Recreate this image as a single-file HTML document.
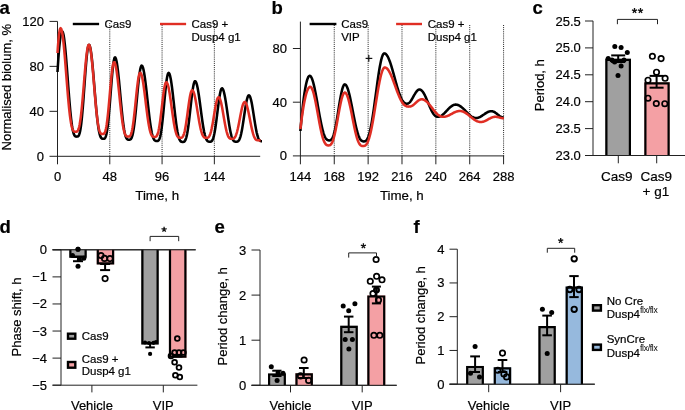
<!DOCTYPE html>
<html><head><meta charset="utf-8"><style>
html,body{margin:0;padding:0;background:#fff;width:685px;height:410px;overflow:hidden}
svg{display:block;will-change:transform}
text{font-family:"Liberation Sans", sans-serif;fill:#000;stroke:#000;stroke-width:0.2px}
</style></head><body>
<svg width="685" height="410" viewBox="0 0 685 410">
<text x="-0.5" y="13.8" font-size="18.5" text-anchor="start" font-weight="bold" >a</text>
<line x1="109.7816" y1="23" x2="109.7816" y2="156.3" stroke="#222" stroke-width="1" stroke-dasharray="1,1.1"/>
<line x1="162.0632" y1="23" x2="162.0632" y2="156.3" stroke="#222" stroke-width="1" stroke-dasharray="1,1.1"/>
<line x1="214.3448" y1="23" x2="214.3448" y2="156.3" stroke="#222" stroke-width="1" stroke-dasharray="1,1.1"/>
<line x1="57.5" y1="21.4" x2="57.5" y2="164.3" stroke="#222" stroke-width="1" />
<line x1="49.5" y1="156.3" x2="260.2" y2="156.3" stroke="#222" stroke-width="1" />
<line x1="49.5" y1="111.33200000000001" x2="57.5" y2="111.33200000000001" stroke="#222" stroke-width="1" />
<line x1="49.5" y1="66.364" x2="57.5" y2="66.364" stroke="#222" stroke-width="1" />
<line x1="49.5" y1="21.396000000000015" x2="57.5" y2="21.396000000000015" stroke="#222" stroke-width="1" />
<line x1="109.7816" y1="156.3" x2="109.7816" y2="164.3" stroke="#222" stroke-width="1" />
<line x1="162.0632" y1="156.3" x2="162.0632" y2="164.3" stroke="#222" stroke-width="1" />
<line x1="214.3448" y1="156.3" x2="214.3448" y2="164.3" stroke="#222" stroke-width="1" />
<text x="44" y="160.8" font-size="13" text-anchor="end" font-weight="normal" >0</text>
<text x="44" y="115.83200000000001" font-size="13" text-anchor="end" font-weight="normal" >40</text>
<text x="44" y="70.864" font-size="13" text-anchor="end" font-weight="normal" >80</text>
<text x="44" y="25.896000000000015" font-size="13" text-anchor="end" font-weight="normal" >120</text>
<text x="57.5" y="181.2" font-size="13" text-anchor="middle" font-weight="normal" >0</text>
<text x="109.7816" y="181.2" font-size="13" text-anchor="middle" font-weight="normal" >48</text>
<text x="162.0632" y="181.2" font-size="13" text-anchor="middle" font-weight="normal" >96</text>
<text x="214.3448" y="181.2" font-size="13" text-anchor="middle" font-weight="normal" >144</text>
<text x="157.2" y="200.2" font-size="13.3" text-anchor="middle" font-weight="normal" >Time, h</text>
<text x="0" y="0" font-size="13" text-anchor="middle" font-weight="normal" transform="translate(11,87.2) rotate(-90)">Normalised biolum, %</text>
<line x1="72.8" y1="24" x2="99.1" y2="24" stroke="#000" stroke-width="2.4" />
<text x="104.5" y="27.8" font-size="11.5" text-anchor="start" font-weight="normal" >Cas9</text>
<line x1="160" y1="24" x2="186.1" y2="24" stroke="#e02e24" stroke-width="2.4" />
<text x="191.5" y="27.8" font-size="11.5" text-anchor="start" font-weight="normal" >Cas9 +</text>
<text x="191.5" y="40.8" font-size="11.5" text-anchor="start" font-weight="normal" >Dusp4 g1</text>
<path d="M57.50,72.00 L57.93,64.97 L58.35,58.61 L58.78,52.92 L59.21,47.90 L59.64,43.55 L60.06,39.87 L60.49,36.86 L60.92,34.51 L61.35,32.84 L61.77,31.83 L62.20,31.50 L62.61,31.82 L63.01,32.77 L63.42,34.35 L63.82,36.52 L64.23,39.27 L64.63,42.54 L65.04,46.29 L65.44,50.47 L65.85,55.02 L66.26,59.88 L66.66,64.99 L67.07,70.27 L67.47,75.66 L67.88,81.09 L68.28,86.49 L68.69,91.81 L69.09,96.97 L69.50,101.93 L69.91,106.64 L70.31,111.05 L70.72,115.13 L71.12,118.85 L71.53,122.20 L71.93,125.16 L72.34,127.73 L72.74,129.92 L73.15,131.74 L73.56,133.21 L73.96,134.35 L74.37,135.21 L74.77,135.82 L75.18,136.21 L75.58,136.44 L75.99,136.56 L76.39,136.60 L76.80,136.60 L77.21,136.59 L77.61,136.53 L78.02,136.36 L78.43,136.00 L78.83,135.39 L79.24,134.46 L79.65,133.16 L80.05,131.44 L80.46,129.27 L80.87,126.61 L81.27,123.47 L81.68,119.84 L82.09,115.74 L82.49,111.22 L82.90,106.32 L83.31,101.10 L83.71,95.63 L84.12,90.01 L84.53,84.32 L84.93,78.67 L85.34,73.15 L85.75,67.86 L86.15,62.92 L86.56,58.42 L86.97,54.44 L87.37,51.07 L87.78,48.37 L88.19,46.40 L88.59,45.20 L89.00,44.80 L89.41,45.10 L89.82,46.01 L90.23,47.50 L90.63,49.55 L91.04,52.14 L91.45,55.22 L91.86,58.75 L92.27,62.67 L92.68,66.93 L93.09,71.47 L93.49,76.22 L93.90,81.12 L94.31,86.10 L94.72,91.09 L95.13,96.03 L95.54,100.87 L95.95,105.54 L96.35,109.99 L96.76,114.18 L97.17,118.07 L97.58,121.64 L97.99,124.85 L98.40,127.70 L98.81,130.19 L99.21,132.30 L99.62,134.07 L100.03,135.49 L100.44,136.61 L100.85,137.44 L101.26,138.03 L101.67,138.42 L102.07,138.65 L102.48,138.76 L102.89,138.80 L103.30,138.80 L103.70,138.79 L104.11,138.73 L104.51,138.56 L104.91,138.21 L105.32,137.60 L105.72,136.69 L106.12,135.42 L106.53,133.73 L106.93,131.61 L107.33,129.03 L107.74,125.98 L108.14,122.48 L108.54,118.55 L108.95,114.24 L109.35,109.58 L109.76,104.67 L110.16,99.56 L110.56,94.36 L110.97,89.15 L111.37,84.03 L111.77,79.12 L112.18,74.50 L112.58,70.27 L112.98,66.52 L113.39,63.33 L113.79,60.78 L114.19,58.92 L114.60,57.78 L115.00,57.40 L115.40,57.66 L115.80,58.46 L116.20,59.76 L116.60,61.56 L117.00,63.82 L117.40,66.52 L117.80,69.61 L118.20,73.05 L118.60,76.78 L119.00,80.75 L119.40,84.91 L119.80,89.20 L120.20,93.56 L120.60,97.93 L121.00,102.26 L121.40,106.49 L121.80,110.58 L122.20,114.47 L122.60,118.14 L123.00,121.55 L123.40,124.67 L123.80,127.49 L124.20,129.98 L124.60,132.16 L125.00,134.01 L125.40,135.55 L125.80,136.80 L126.20,137.78 L126.60,138.51 L127.00,139.03 L127.40,139.37 L127.80,139.57 L128.20,139.66 L128.60,139.70 L129.00,139.70 L129.41,139.69 L129.82,139.65 L130.23,139.52 L130.64,139.26 L131.05,138.82 L131.46,138.14 L131.87,137.19 L132.28,135.93 L132.69,134.33 L133.10,132.37 L133.51,130.04 L133.92,127.35 L134.33,124.29 L134.74,120.90 L135.15,117.21 L135.55,113.25 L135.96,109.07 L136.37,104.74 L136.78,100.32 L137.19,95.87 L137.60,91.48 L138.01,87.22 L138.42,83.16 L138.83,79.37 L139.24,75.94 L139.65,72.91 L140.06,70.35 L140.47,68.30 L140.88,66.81 L141.29,65.90 L141.70,65.60 L142.10,65.81 L142.50,66.42 L142.90,67.44 L143.30,68.84 L143.70,70.62 L144.10,72.74 L144.50,75.18 L144.90,77.91 L145.30,80.90 L145.70,84.10 L146.10,87.49 L146.50,91.01 L146.90,94.63 L147.30,98.31 L147.70,102.00 L148.10,105.66 L148.50,109.26 L148.90,112.76 L149.30,116.13 L149.70,119.33 L150.10,122.35 L150.50,125.15 L150.90,127.73 L151.30,130.07 L151.70,132.15 L152.10,133.99 L152.50,135.58 L152.90,136.93 L153.30,138.04 L153.70,138.94 L154.10,139.64 L154.50,140.16 L154.90,140.53 L155.30,140.77 L155.70,140.91 L156.10,140.97 L156.50,141.00 L156.90,141.00 L157.30,140.99 L157.71,140.94 L158.11,140.80 L158.51,140.50 L158.92,140.00 L159.32,139.24 L159.72,138.17 L160.13,136.76 L160.53,134.99 L160.93,132.83 L161.34,130.28 L161.74,127.35 L162.14,124.06 L162.55,120.45 L162.95,116.56 L163.36,112.44 L163.76,108.17 L164.16,103.82 L164.57,99.46 L164.97,95.18 L165.37,91.07 L165.78,87.20 L166.18,83.66 L166.58,80.53 L166.99,77.87 L167.39,75.73 L167.79,74.17 L168.20,73.22 L168.60,72.90 L169.00,73.12 L169.41,73.78 L169.81,74.88 L170.21,76.39 L170.61,78.28 L171.02,80.55 L171.42,83.14 L171.82,86.02 L172.23,89.15 L172.63,92.48 L173.03,95.97 L173.43,99.56 L173.84,103.22 L174.24,106.88 L174.64,110.51 L175.05,114.06 L175.45,117.48 L175.85,120.75 L176.25,123.83 L176.66,126.68 L177.06,129.30 L177.46,131.66 L177.87,133.75 L178.27,135.58 L178.67,137.13 L179.07,138.42 L179.48,139.47 L179.88,140.29 L180.28,140.90 L180.69,141.34 L181.09,141.62 L181.49,141.79 L181.89,141.87 L182.30,141.90 L182.70,141.90 L183.10,141.90 L183.50,141.86 L183.90,141.76 L184.30,141.54 L184.70,141.18 L185.10,140.62 L185.50,139.84 L185.90,138.81 L186.30,137.50 L186.70,135.90 L187.10,133.99 L187.50,131.78 L187.90,129.28 L188.30,126.50 L188.70,123.47 L189.10,120.23 L189.50,116.81 L189.90,113.26 L190.30,109.64 L190.70,106.00 L191.10,102.40 L191.50,98.91 L191.90,95.58 L192.30,92.48 L192.70,89.67 L193.10,87.19 L193.50,85.09 L193.90,83.41 L194.30,82.19 L194.70,81.45 L195.10,81.20 L195.51,81.38 L195.92,81.93 L196.32,82.84 L196.73,84.09 L197.14,85.67 L197.55,87.55 L197.96,89.71 L198.37,92.12 L198.78,94.74 L199.18,97.54 L199.59,100.48 L200.00,103.52 L200.41,106.62 L200.82,109.75 L201.22,112.86 L201.63,115.91 L202.04,118.89 L202.45,121.74 L202.86,124.45 L203.27,126.99 L203.68,129.34 L204.08,131.48 L204.49,133.41 L204.90,135.12 L205.31,136.60 L205.72,137.86 L206.12,138.90 L206.53,139.75 L206.94,140.41 L207.35,140.90 L207.76,141.25 L208.17,141.48 L208.58,141.61 L208.98,141.68 L209.39,141.70 L209.80,141.70 L210.21,141.70 L210.61,141.66 L211.02,141.56 L211.43,141.35 L211.83,140.99 L212.24,140.45 L212.65,139.70 L213.05,138.70 L213.46,137.43 L213.87,135.89 L214.27,134.06 L214.68,131.95 L215.09,129.57 L215.49,126.94 L215.90,124.08 L216.31,121.05 L216.71,117.87 L217.12,114.60 L217.53,111.29 L217.93,108.00 L218.34,104.79 L218.75,101.72 L219.15,98.84 L219.56,96.22 L219.97,93.91 L220.37,91.95 L220.78,90.38 L221.19,89.23 L221.59,88.53 L222.00,88.30 L222.41,88.47 L222.81,88.98 L223.22,89.83 L223.62,91.00 L224.03,92.47 L224.43,94.22 L224.84,96.22 L225.25,98.45 L225.65,100.87 L226.06,103.45 L226.46,106.15 L226.87,108.93 L227.27,111.76 L227.68,114.60 L228.09,117.41 L228.49,120.15 L228.90,122.80 L229.30,125.33 L229.71,127.71 L230.11,129.92 L230.52,131.95 L230.93,133.78 L231.33,135.40 L231.74,136.81 L232.14,138.01 L232.55,139.01 L232.95,139.82 L233.36,140.45 L233.77,140.93 L234.17,141.26 L234.58,141.48 L234.98,141.61 L235.39,141.68 L235.79,141.70 L236.20,141.70 L236.61,141.70 L237.02,141.67 L237.43,141.59 L237.84,141.43 L238.25,141.15 L238.66,140.72 L239.07,140.13 L239.48,139.34 L239.89,138.34 L240.30,137.11 L240.71,135.65 L241.12,133.97 L241.53,132.05 L241.94,129.93 L242.35,127.62 L242.75,125.13 L243.16,122.52 L243.57,119.81 L243.98,117.04 L244.39,114.26 L244.80,111.51 L245.21,108.84 L245.62,106.30 L246.03,103.93 L246.44,101.77 L246.85,99.88 L247.26,98.27 L247.67,96.99 L248.08,96.06 L248.49,95.49 L248.90,95.30 L249.31,95.48 L249.72,96.00 L250.13,96.87 L250.54,98.06 L250.95,99.56 L251.36,101.33 L251.77,103.35 L252.18,105.57 L252.58,107.97 L252.99,110.50 L253.40,113.11 L253.81,115.77 L254.22,118.44 L254.63,121.06 L255.04,123.62 L255.45,126.06 L255.86,128.36 L256.27,130.50 L256.68,132.45 L257.09,134.20 L257.50,135.74 L257.91,137.06 L258.32,138.17 L258.73,139.08 L259.13,139.79 L259.54,140.32 L259.95,140.70 L260.36,140.95 L260.77,141.10 L261.18,141.17 L261.59,141.20 L262.00,141.20" fill="none" stroke="#000" stroke-width="2.55" stroke-linejoin="round"/>
<path d="M57.50,53.00 L57.94,46.42 L58.39,40.85 L58.83,36.30 L59.27,32.76 L59.71,30.22 L60.16,28.71 L60.60,28.20 L61.01,28.50 L61.41,29.39 L61.82,30.86 L62.22,32.89 L62.63,35.46 L63.03,38.52 L63.44,42.04 L63.84,45.97 L64.25,50.26 L64.65,54.86 L65.06,59.69 L65.46,64.71 L65.87,69.86 L66.28,75.06 L66.68,80.26 L67.09,85.40 L67.49,90.42 L67.90,95.27 L68.30,99.92 L68.71,104.30 L69.11,108.39 L69.52,112.17 L69.92,115.60 L70.33,118.68 L70.74,121.39 L71.14,123.74 L71.55,125.74 L71.95,127.39 L72.36,128.73 L72.76,129.77 L73.17,130.54 L73.57,131.09 L73.98,131.45 L74.38,131.66 L74.79,131.76 L75.19,131.80 L75.60,131.80 L76.00,131.79 L76.41,131.75 L76.81,131.63 L77.21,131.38 L77.62,130.95 L78.02,130.29 L78.42,129.37 L78.82,128.14 L79.23,126.57 L79.63,124.64 L80.03,122.33 L80.44,119.64 L80.84,116.57 L81.24,113.13 L81.65,109.35 L82.05,105.25 L82.45,100.88 L82.85,96.29 L83.26,91.53 L83.66,86.67 L84.06,81.76 L84.47,76.89 L84.87,72.13 L85.27,67.55 L85.68,63.22 L86.08,59.21 L86.48,55.58 L86.88,52.41 L87.29,49.73 L87.69,47.60 L88.09,46.05 L88.50,45.11 L88.90,44.80 L89.30,45.10 L89.71,46.01 L90.11,47.51 L90.51,49.57 L90.91,52.16 L91.32,55.25 L91.72,58.77 L92.12,62.68 L92.53,66.92 L92.93,71.42 L93.33,76.11 L93.74,80.93 L94.14,85.80 L94.54,90.67 L94.94,95.46 L95.35,100.11 L95.75,104.57 L96.15,108.80 L96.56,112.74 L96.96,116.36 L97.36,119.64 L97.76,122.55 L98.17,125.10 L98.57,127.28 L98.97,129.10 L99.38,130.57 L99.78,131.72 L100.18,132.59 L100.59,133.20 L100.99,133.61 L101.39,133.84 L101.79,133.96 L102.20,134.00 L102.60,134.00 L103.01,133.99 L103.42,133.93 L103.83,133.76 L104.24,133.41 L104.65,132.82 L105.06,131.93 L105.47,130.68 L105.89,129.04 L106.30,126.97 L106.71,124.47 L107.12,121.53 L107.53,118.17 L107.94,114.41 L108.35,110.31 L108.76,105.93 L109.17,101.33 L109.58,96.61 L109.99,91.84 L110.40,87.13 L110.81,82.57 L111.22,78.27 L111.64,74.32 L112.05,70.80 L112.46,67.80 L112.87,65.40 L113.28,63.63 L113.69,62.56 L114.10,62.20 L114.50,62.44 L114.91,63.15 L115.31,64.33 L115.71,65.96 L116.11,68.01 L116.52,70.44 L116.92,73.24 L117.32,76.34 L117.73,79.72 L118.13,83.31 L118.53,87.07 L118.93,90.95 L119.34,94.89 L119.74,98.84 L120.14,102.75 L120.55,106.58 L120.95,110.27 L121.35,113.80 L121.75,117.11 L122.16,120.19 L122.56,123.01 L122.96,125.56 L123.37,127.82 L123.77,129.78 L124.17,131.46 L124.57,132.85 L124.98,133.98 L125.38,134.86 L125.78,135.53 L126.19,135.99 L126.59,136.30 L126.99,136.48 L127.39,136.57 L127.80,136.60 L128.20,136.60 L128.60,136.59 L129.00,136.55 L129.40,136.43 L129.80,136.18 L130.20,135.75 L130.60,135.11 L131.00,134.20 L131.40,133.01 L131.80,131.49 L132.20,129.65 L132.60,127.46 L133.00,124.93 L133.40,122.08 L133.80,118.93 L134.20,115.52 L134.60,111.89 L135.00,108.08 L135.40,104.17 L135.80,100.21 L136.20,96.27 L136.60,92.43 L137.00,88.75 L137.40,85.32 L137.80,82.18 L138.20,79.41 L138.60,77.06 L139.00,75.18 L139.40,73.81 L139.80,72.98 L140.20,72.70 L140.60,72.90 L141.00,73.48 L141.40,74.44 L141.80,75.77 L142.20,77.44 L142.60,79.44 L143.00,81.73 L143.40,84.29 L143.80,87.07 L144.20,90.04 L144.60,93.16 L145.00,96.38 L145.40,99.68 L145.80,102.99 L146.20,106.29 L146.60,109.54 L147.00,112.69 L147.40,115.72 L147.80,118.60 L148.20,121.29 L148.60,123.79 L149.00,126.06 L149.40,128.11 L149.80,129.91 L150.20,131.48 L150.60,132.82 L151.00,133.93 L151.40,134.83 L151.80,135.53 L152.20,136.05 L152.60,136.42 L153.00,136.66 L153.40,136.80 L153.80,136.87 L154.20,136.90 L154.60,136.90 L155.00,136.90 L155.41,136.86 L155.81,136.74 L156.21,136.50 L156.62,136.10 L157.02,135.48 L157.42,134.63 L157.83,133.50 L158.23,132.07 L158.63,130.33 L159.04,128.29 L159.44,125.94 L159.84,123.29 L160.25,120.39 L160.65,117.27 L161.06,113.96 L161.46,110.53 L161.86,107.04 L162.27,103.53 L162.67,100.10 L163.07,96.79 L163.48,93.69 L163.88,90.85 L164.28,88.33 L164.69,86.19 L165.09,84.47 L165.49,83.22 L165.90,82.46 L166.30,82.20 L166.70,82.38 L167.11,82.91 L167.51,83.79 L167.91,85.01 L168.31,86.54 L168.72,88.36 L169.12,90.45 L169.52,92.77 L169.93,95.29 L170.33,97.98 L170.73,100.79 L171.13,103.68 L171.54,106.63 L171.94,109.58 L172.34,112.50 L172.75,115.36 L173.15,118.12 L173.55,120.76 L173.95,123.24 L174.36,125.54 L174.76,127.65 L175.16,129.55 L175.57,131.24 L175.97,132.70 L176.37,133.96 L176.77,135.00 L177.18,135.84 L177.58,136.50 L177.98,137.00 L178.39,137.35 L178.79,137.58 L179.19,137.71 L179.59,137.78 L180.00,137.80 L180.40,137.80 L180.81,137.80 L181.21,137.76 L181.62,137.66 L182.03,137.45 L182.43,137.10 L182.84,136.57 L183.25,135.82 L183.66,134.84 L184.06,133.60 L184.47,132.09 L184.88,130.31 L185.28,128.26 L185.69,125.96 L186.10,123.44 L186.50,120.72 L186.91,117.84 L187.32,114.85 L187.72,111.81 L188.13,108.77 L188.54,105.78 L188.94,102.90 L189.35,100.20 L189.76,97.72 L190.17,95.53 L190.57,93.67 L190.98,92.18 L191.39,91.09 L191.79,90.42 L192.20,90.20 L192.61,90.35 L193.01,90.81 L193.42,91.56 L193.82,92.60 L194.23,93.91 L194.63,95.47 L195.04,97.26 L195.45,99.25 L195.85,101.41 L196.26,103.71 L196.66,106.11 L197.07,108.59 L197.47,111.11 L197.88,113.64 L198.29,116.14 L198.69,118.59 L199.10,120.96 L199.50,123.21 L199.91,125.33 L200.31,127.30 L200.72,129.11 L201.13,130.74 L201.53,132.18 L201.94,133.44 L202.34,134.51 L202.75,135.40 L203.15,136.12 L203.56,136.69 L203.97,137.11 L204.37,137.41 L204.78,137.61 L205.18,137.72 L205.59,137.78 L205.99,137.80 L206.40,137.80 L206.81,137.80 L207.21,137.77 L207.62,137.69 L208.03,137.53 L208.43,137.26 L208.84,136.85 L209.25,136.28 L209.65,135.52 L210.06,134.56 L210.47,133.38 L210.87,131.99 L211.28,130.39 L211.69,128.58 L212.09,126.58 L212.50,124.41 L212.91,122.10 L213.31,119.68 L213.72,117.19 L214.13,114.68 L214.53,112.18 L214.94,109.74 L215.35,107.40 L215.75,105.22 L216.16,103.22 L216.57,101.46 L216.97,99.97 L217.38,98.78 L217.79,97.91 L218.19,97.38 L218.60,97.20 L219.00,97.35 L219.40,97.80 L219.80,98.54 L220.20,99.56 L220.60,100.84 L221.00,102.36 L221.40,104.09 L221.80,106.01 L222.20,108.08 L222.60,110.27 L223.00,112.55 L223.40,114.87 L223.80,117.22 L224.20,119.55 L224.60,121.82 L225.00,124.02 L225.40,126.11 L225.80,128.07 L226.20,129.87 L226.60,131.52 L227.00,132.99 L227.40,134.27 L227.80,135.38 L228.20,136.30 L228.60,137.05 L229.00,137.64 L229.40,138.08 L229.80,138.39 L230.20,138.60 L230.60,138.72 L231.00,138.78 L231.40,138.80 L231.80,138.80 L232.20,138.80 L232.61,138.78 L233.01,138.72 L233.41,138.60 L233.82,138.40 L234.22,138.10 L234.62,137.67 L235.03,137.10 L235.43,136.37 L235.83,135.48 L236.23,134.42 L236.64,133.19 L237.04,131.79 L237.44,130.22 L237.85,128.51 L238.25,126.66 L238.65,124.70 L239.06,122.65 L239.46,120.55 L239.86,118.41 L240.27,116.28 L240.67,114.18 L241.07,112.16 L241.47,110.24 L241.88,108.45 L242.28,106.83 L242.68,105.41 L243.09,104.22 L243.49,103.26 L243.89,102.56 L244.30,102.14 L244.70,102.00 L245.11,102.13 L245.51,102.52 L245.92,103.16 L246.32,104.05 L246.73,105.16 L247.14,106.49 L247.54,108.00 L247.95,109.68 L248.35,111.50 L248.76,113.43 L249.16,115.44 L249.57,117.51 L249.98,119.61 L250.38,121.69 L250.79,123.75 L251.19,125.75 L251.60,127.67 L252.01,129.48 L252.41,131.17 L252.82,132.73 L253.22,134.13 L253.63,135.39 L254.04,136.48 L254.44,137.41 L254.85,138.19 L255.25,138.83 L255.66,139.32 L256.06,139.69 L256.47,139.96 L256.88,140.13 L257.28,140.23 L257.69,140.28 L258.09,140.30 L258.50,140.30 L258.92,140.33 L259.34,140.40 L259.76,140.46 L260.18,140.50 L260.60,140.50" fill="none" stroke="#e02e24" stroke-width="2.55" stroke-linejoin="round"/>
<text x="271.5" y="13.8" font-size="18.5" text-anchor="start" font-weight="bold" >b</text>
<line x1="334.264" y1="25" x2="334.264" y2="155.9" stroke="#222" stroke-width="1" stroke-dasharray="1,1.1"/>
<line x1="368.128" y1="25" x2="368.128" y2="155.9" stroke="#222" stroke-width="1" stroke-dasharray="1,1.1"/>
<line x1="401.99199999999996" y1="25" x2="401.99199999999996" y2="155.9" stroke="#222" stroke-width="1" stroke-dasharray="1,1.1"/>
<line x1="435.856" y1="25" x2="435.856" y2="155.9" stroke="#222" stroke-width="1" stroke-dasharray="1,1.1"/>
<line x1="469.71999999999997" y1="25" x2="469.71999999999997" y2="155.9" stroke="#222" stroke-width="1" stroke-dasharray="1,1.1"/>
<line x1="503.58399999999995" y1="25" x2="503.58399999999995" y2="155.9" stroke="#222" stroke-width="1" stroke-dasharray="1,1.1"/>
<line x1="300.4" y1="21.6" x2="300.4" y2="164.3" stroke="#222" stroke-width="1" />
<line x1="292.9" y1="155.9" x2="504.1" y2="155.9" stroke="#222" stroke-width="1" />
<line x1="292.9" y1="102.2" x2="300.4" y2="102.2" stroke="#222" stroke-width="1" />
<line x1="292.9" y1="48.5" x2="300.4" y2="48.5" stroke="#222" stroke-width="1" />
<line x1="334.264" y1="155.9" x2="334.264" y2="164.3" stroke="#222" stroke-width="1" />
<line x1="368.128" y1="155.9" x2="368.128" y2="164.3" stroke="#222" stroke-width="1" />
<line x1="401.99199999999996" y1="155.9" x2="401.99199999999996" y2="164.3" stroke="#222" stroke-width="1" />
<line x1="435.856" y1="155.9" x2="435.856" y2="164.3" stroke="#222" stroke-width="1" />
<line x1="469.71999999999997" y1="155.9" x2="469.71999999999997" y2="164.3" stroke="#222" stroke-width="1" />
<line x1="503.58399999999995" y1="155.9" x2="503.58399999999995" y2="164.3" stroke="#222" stroke-width="1" />
<text x="287" y="160.4" font-size="13" text-anchor="end" font-weight="normal" >0</text>
<text x="287" y="106.7" font-size="13" text-anchor="end" font-weight="normal" >40</text>
<text x="287" y="53.0" font-size="13" text-anchor="end" font-weight="normal" >80</text>
<text x="300.4" y="181.2" font-size="13" text-anchor="middle" font-weight="normal" >144</text>
<text x="334.264" y="181.2" font-size="13" text-anchor="middle" font-weight="normal" >168</text>
<text x="368.128" y="181.2" font-size="13" text-anchor="middle" font-weight="normal" >192</text>
<text x="401.99199999999996" y="181.2" font-size="13" text-anchor="middle" font-weight="normal" >216</text>
<text x="435.856" y="181.2" font-size="13" text-anchor="middle" font-weight="normal" >240</text>
<text x="469.71999999999997" y="181.2" font-size="13" text-anchor="middle" font-weight="normal" >264</text>
<text x="503.58399999999995" y="181.2" font-size="13" text-anchor="middle" font-weight="normal" >288</text>
<text x="401.8" y="200.2" font-size="13.3" text-anchor="middle" font-weight="normal" >Time, h</text>
<line x1="309.6" y1="24" x2="336.4" y2="24" stroke="#000" stroke-width="2.4" />
<text x="341.2" y="27.5" font-size="11.5" text-anchor="start" font-weight="normal" >Cas9</text>
<text x="341.2" y="40.6" font-size="11.5" text-anchor="start" font-weight="normal" >VIP</text>
<line x1="396.1" y1="24" x2="422" y2="24" stroke="#e02e24" stroke-width="2.4" />
<text x="427.7" y="27.5" font-size="11.5" text-anchor="start" font-weight="normal" >Cas9 +</text>
<text x="427.7" y="40.6" font-size="11.5" text-anchor="start" font-weight="normal" >Dusp4 g1</text>
<line x1="365.6" y1="58.4" x2="372.3" y2="58.4" stroke="#111" stroke-width="1.2" />
<line x1="368.8" y1="55" x2="368.8" y2="61.7" stroke="#111" stroke-width="1.2" />
<path d="M300.40,131.00 L300.80,126.30 L301.21,121.82 L301.61,117.54 L302.02,113.47 L302.42,109.61 L302.83,105.96 L303.23,102.51 L303.63,99.28 L304.04,96.25 L304.44,93.43 L304.85,90.83 L305.25,88.43 L305.66,86.23 L306.06,84.25 L306.47,82.48 L306.87,80.91 L307.27,79.56 L307.68,78.41 L308.08,77.47 L308.49,76.74 L308.89,76.22 L309.30,75.90 L309.70,75.80 L310.10,75.89 L310.50,76.16 L310.90,76.60 L311.30,77.22 L311.70,78.01 L312.10,78.97 L312.50,80.08 L312.90,81.35 L313.30,82.76 L313.70,84.31 L314.10,85.98 L314.50,87.77 L314.90,89.66 L315.30,91.65 L315.70,93.72 L316.10,95.86 L316.50,98.06 L316.90,100.30 L317.30,102.58 L317.70,104.87 L318.10,107.16 L318.50,109.45 L318.90,111.72 L319.30,113.96 L319.70,116.15 L320.10,118.29 L320.50,120.36 L320.90,122.36 L321.30,124.27 L321.70,126.10 L322.10,127.82 L322.50,129.44 L322.90,130.95 L323.30,132.34 L323.70,133.62 L324.10,134.78 L324.50,135.82 L324.90,136.74 L325.30,137.54 L325.70,138.23 L326.10,138.81 L326.50,139.28 L326.90,139.66 L327.30,139.94 L327.70,140.15 L328.10,140.28 L328.50,140.36 L328.90,140.39 L329.30,140.40 L329.71,140.39 L330.12,140.33 L330.52,140.20 L330.93,139.97 L331.34,139.62 L331.75,139.14 L332.16,138.50 L332.56,137.71 L332.97,136.76 L333.38,135.63 L333.79,134.33 L334.19,132.86 L334.60,131.22 L335.01,129.42 L335.42,127.47 L335.83,125.38 L336.23,123.17 L336.64,120.84 L337.05,118.43 L337.46,115.95 L337.87,113.41 L338.27,110.85 L338.68,108.29 L339.09,105.74 L339.50,103.24 L339.91,100.81 L340.31,98.47 L340.72,96.24 L341.13,94.15 L341.54,92.22 L341.94,90.47 L342.35,88.91 L342.76,87.56 L343.17,86.44 L343.58,85.55 L343.98,84.91 L344.39,84.53 L344.80,84.40 L345.21,84.49 L345.61,84.74 L346.02,85.17 L346.43,85.76 L346.83,86.52 L347.24,87.43 L347.64,88.50 L348.05,89.70 L348.46,91.05 L348.86,92.52 L349.27,94.11 L349.68,95.80 L350.08,97.59 L350.49,99.47 L350.90,101.41 L351.30,103.42 L351.71,105.47 L352.11,107.55 L352.52,109.66 L352.93,111.77 L353.33,113.88 L353.74,115.97 L354.15,118.02 L354.55,120.04 L354.96,122.01 L355.37,123.91 L355.77,125.74 L356.18,127.49 L356.59,129.14 L356.99,130.71 L357.40,132.17 L357.80,133.52 L358.21,134.76 L358.62,135.89 L359.02,136.90 L359.43,137.80 L359.84,138.59 L360.24,139.26 L360.65,139.83 L361.06,140.30 L361.46,140.67 L361.87,140.95 L362.27,141.15 L362.68,141.29 L363.09,141.36 L363.49,141.39 L363.90,141.40 L364.30,141.39 L364.70,141.35 L365.10,141.26 L365.50,141.09 L365.90,140.84 L366.30,140.49 L366.70,140.03 L367.10,139.45 L367.50,138.74 L367.90,137.89 L368.30,136.90 L368.70,135.77 L369.10,134.49 L369.50,133.05 L369.90,131.47 L370.30,129.74 L370.70,127.86 L371.10,125.84 L371.50,123.68 L371.90,121.39 L372.30,118.98 L372.70,116.46 L373.10,113.83 L373.50,111.11 L373.90,108.31 L374.30,105.44 L374.70,102.51 L375.10,99.54 L375.50,96.55 L375.90,93.55 L376.30,90.55 L376.70,87.56 L377.10,84.62 L377.50,81.72 L377.90,78.89 L378.30,76.14 L378.70,73.49 L379.10,70.95 L379.50,68.54 L379.90,66.26 L380.30,64.14 L380.70,62.18 L381.10,60.39 L381.50,58.79 L381.90,57.39 L382.30,56.18 L382.70,55.19 L383.10,54.41 L383.50,53.85 L383.90,53.51 L384.30,53.40 L384.70,53.45 L385.10,53.58 L385.51,53.81 L385.91,54.12 L386.31,54.53 L386.71,55.02 L387.11,55.60 L387.51,56.25 L387.92,56.99 L388.32,57.81 L388.72,58.70 L389.12,59.66 L389.52,60.68 L389.93,61.77 L390.33,62.92 L390.73,64.13 L391.13,65.38 L391.53,66.68 L391.93,68.02 L392.34,69.39 L392.74,70.80 L393.14,72.23 L393.54,73.68 L393.94,75.14 L394.34,76.61 L394.75,78.09 L395.15,79.57 L395.55,81.03 L395.95,82.49 L396.35,83.93 L396.76,85.34 L397.16,86.73 L397.56,88.09 L397.96,89.41 L398.36,90.68 L398.76,91.92 L399.17,93.10 L399.57,94.23 L399.97,95.31 L400.37,96.33 L400.77,97.29 L401.18,98.18 L401.58,99.00 L401.98,99.76 L402.38,100.46 L402.78,101.08 L403.18,101.63 L403.59,102.11 L403.99,102.53 L404.39,102.87 L404.79,103.16 L405.19,103.37 L405.59,103.53 L406.00,103.63 L406.40,103.69 L406.80,103.70 L407.21,103.68 L407.62,103.61 L408.03,103.48 L408.44,103.28 L408.85,103.02 L409.26,102.70 L409.67,102.31 L410.08,101.87 L410.49,101.36 L410.90,100.81 L411.31,100.20 L411.72,99.56 L412.13,98.88 L412.54,98.17 L412.95,97.44 L413.35,96.71 L413.76,95.96 L414.17,95.23 L414.58,94.50 L414.99,93.80 L415.40,93.13 L415.81,92.50 L416.22,91.91 L416.63,91.37 L417.04,90.89 L417.45,90.48 L417.86,90.13 L418.27,89.86 L418.68,89.66 L419.09,89.54 L419.50,89.50 L419.91,89.54 L420.31,89.65 L420.72,89.83 L421.13,90.08 L421.53,90.40 L421.94,90.80 L422.35,91.25 L422.75,91.77 L423.16,92.35 L423.57,92.99 L423.97,93.68 L424.38,94.42 L424.79,95.21 L425.19,96.04 L425.60,96.91 L426.01,97.80 L426.41,98.73 L426.82,99.67 L427.23,100.64 L427.63,101.61 L428.04,102.59 L428.45,103.57 L428.85,104.55 L429.26,105.52 L429.67,106.47 L430.07,107.41 L430.48,108.32 L430.89,109.20 L431.29,110.05 L431.70,110.86 L432.11,111.63 L432.51,112.35 L432.92,113.03 L433.33,113.65 L433.73,114.22 L434.14,114.74 L434.55,115.20 L434.95,115.60 L435.36,115.94 L435.77,116.22 L436.17,116.44 L436.58,116.61 L436.99,116.72 L437.39,116.78 L437.80,116.80 L438.21,116.78 L438.61,116.74 L439.02,116.66 L439.43,116.55 L439.83,116.42 L440.24,116.25 L440.65,116.05 L441.05,115.83 L441.46,115.58 L441.87,115.31 L442.27,115.01 L442.68,114.69 L443.09,114.36 L443.50,114.00 L443.90,113.62 L444.31,113.23 L444.72,112.83 L445.12,112.42 L445.53,112.00 L445.94,111.57 L446.34,111.14 L446.75,110.70 L447.16,110.26 L447.56,109.83 L447.97,109.40 L448.38,108.98 L448.78,108.57 L449.19,108.17 L449.60,107.78 L450.00,107.40 L450.41,107.04 L450.82,106.71 L451.23,106.39 L451.63,106.09 L452.04,105.82 L452.45,105.57 L452.85,105.35 L453.26,105.15 L453.67,104.98 L454.07,104.85 L454.48,104.74 L454.89,104.66 L455.29,104.62 L455.70,104.60 L456.10,104.61 L456.50,104.65 L456.90,104.71 L457.30,104.80 L457.70,104.92 L458.10,105.05 L458.50,105.21 L458.90,105.40 L459.30,105.60 L459.70,105.83 L460.10,106.08 L460.50,106.35 L460.90,106.64 L461.30,106.94 L461.70,107.26 L462.10,107.60 L462.50,107.95 L462.90,108.31 L463.30,108.69 L463.70,109.07 L464.10,109.47 L464.50,109.87 L464.90,110.27 L465.30,110.68 L465.70,111.09 L466.10,111.51 L466.50,111.92 L466.90,112.33 L467.30,112.73 L467.70,113.13 L468.10,113.53 L468.50,113.91 L468.90,114.29 L469.30,114.65 L469.70,115.00 L470.10,115.34 L470.50,115.66 L470.90,115.96 L471.30,116.25 L471.70,116.52 L472.10,116.77 L472.50,117.00 L472.90,117.20 L473.30,117.39 L473.70,117.55 L474.10,117.68 L474.50,117.80 L474.90,117.89 L475.30,117.95 L475.70,117.99 L476.10,118.00 L476.51,117.99 L476.92,117.95 L477.33,117.89 L477.74,117.81 L478.15,117.70 L478.56,117.57 L478.98,117.42 L479.39,117.25 L479.80,117.05 L480.21,116.85 L480.62,116.62 L481.03,116.38 L481.44,116.13 L481.85,115.87 L482.26,115.60 L482.67,115.32 L483.08,115.03 L483.49,114.74 L483.91,114.46 L484.32,114.17 L484.73,113.88 L485.14,113.60 L485.55,113.33 L485.96,113.07 L486.37,112.82 L486.78,112.58 L487.19,112.35 L487.60,112.15 L488.01,111.95 L488.42,111.78 L488.84,111.63 L489.25,111.50 L489.66,111.39 L490.07,111.31 L490.48,111.25 L490.89,111.21 L491.30,111.20 L491.70,111.22 L492.11,111.26 L492.51,111.34 L492.91,111.46 L493.32,111.60 L493.72,111.76 L494.12,111.96 L494.53,112.18 L494.93,112.42 L495.33,112.68 L495.74,112.96 L496.14,113.26 L496.54,113.56 L496.95,113.87 L497.35,114.19 L497.75,114.51 L498.15,114.83 L498.56,115.14 L498.96,115.44 L499.36,115.74 L499.77,116.02 L500.17,116.28 L500.57,116.52 L500.98,116.74 L501.38,116.94 L501.78,117.10 L502.19,117.24 L502.59,117.36 L502.99,117.44 L503.40,117.48 L503.80,117.50" fill="none" stroke="#000" stroke-width="2.55" stroke-linejoin="round"/>
<path d="M300.40,129.00 L300.81,125.56 L301.22,122.26 L301.62,119.11 L302.03,116.11 L302.44,113.25 L302.85,110.54 L303.26,107.97 L303.67,105.56 L304.07,103.28 L304.48,101.16 L304.89,99.18 L305.30,97.35 L305.71,95.66 L306.12,94.13 L306.52,92.73 L306.93,91.49 L307.34,90.39 L307.75,89.44 L308.16,88.63 L308.57,87.97 L308.97,87.46 L309.38,87.09 L309.79,86.87 L310.20,86.80 L310.61,86.90 L311.01,87.18 L311.42,87.66 L311.83,88.33 L312.23,89.17 L312.64,90.19 L313.05,91.38 L313.45,92.73 L313.86,94.23 L314.27,95.86 L314.67,97.62 L315.08,99.49 L315.49,101.47 L315.89,103.53 L316.30,105.66 L316.71,107.85 L317.11,110.08 L317.52,112.33 L317.93,114.60 L318.33,116.86 L318.74,119.11 L319.15,121.32 L319.55,123.49 L319.96,125.59 L320.37,127.63 L320.77,129.58 L321.18,131.44 L321.59,133.20 L321.99,134.85 L322.40,136.38 L322.81,137.79 L323.21,139.08 L323.62,140.24 L324.03,141.26 L324.43,142.17 L324.84,142.94 L325.25,143.59 L325.65,144.13 L326.06,144.56 L326.47,144.88 L326.87,145.11 L327.28,145.27 L327.69,145.36 L328.09,145.39 L328.50,145.40 L328.91,145.39 L329.31,145.35 L329.72,145.24 L330.13,145.05 L330.54,144.76 L330.94,144.36 L331.35,143.84 L331.76,143.18 L332.17,142.39 L332.57,141.45 L332.98,140.37 L333.39,139.14 L333.80,137.76 L334.20,136.25 L334.61,134.60 L335.02,132.82 L335.43,130.93 L335.83,128.94 L336.24,126.85 L336.65,124.69 L337.06,122.46 L337.47,120.20 L337.87,117.90 L338.28,115.61 L338.69,113.32 L339.10,111.07 L339.50,108.87 L339.91,106.74 L340.32,104.69 L340.73,102.76 L341.13,100.96 L341.54,99.29 L341.95,97.78 L342.36,96.45 L342.76,95.29 L343.17,94.34 L343.58,93.58 L343.99,93.04 L344.39,92.71 L344.80,92.60 L345.20,92.69 L345.61,92.95 L346.01,93.39 L346.42,93.99 L346.82,94.76 L347.23,95.69 L347.63,96.78 L348.04,98.00 L348.44,99.37 L348.84,100.86 L349.25,102.46 L349.65,104.17 L350.06,105.97 L350.46,107.84 L350.87,109.79 L351.27,111.78 L351.68,113.81 L352.08,115.87 L352.48,117.93 L352.89,120.00 L353.29,122.04 L353.70,124.06 L354.10,126.03 L354.51,127.95 L354.91,129.81 L355.32,131.59 L355.72,133.28 L356.12,134.88 L356.53,136.39 L356.93,137.78 L357.34,139.07 L357.74,140.24 L358.15,141.29 L358.55,142.23 L358.96,143.05 L359.36,143.76 L359.76,144.35 L360.17,144.84 L360.57,145.23 L360.98,145.53 L361.38,145.74 L361.79,145.88 L362.19,145.96 L362.60,145.99 L363.00,146.00 L363.40,145.99 L363.81,145.96 L364.21,145.89 L364.61,145.77 L365.02,145.57 L365.42,145.31 L365.83,144.95 L366.23,144.50 L366.63,143.96 L367.04,143.31 L367.44,142.54 L367.84,141.67 L368.25,140.67 L368.65,139.56 L369.06,138.33 L369.46,136.98 L369.86,135.51 L370.27,133.92 L370.67,132.22 L371.07,130.41 L371.48,128.50 L371.88,126.49 L372.29,124.38 L372.69,122.20 L373.09,119.93 L373.50,117.60 L373.90,115.21 L374.30,112.76 L374.71,110.28 L375.11,107.77 L375.51,105.25 L375.92,102.72 L376.32,100.19 L376.73,97.68 L377.13,95.20 L377.53,92.76 L377.94,90.38 L378.34,88.06 L378.74,85.81 L379.15,83.65 L379.55,81.59 L379.96,79.64 L380.36,77.80 L380.76,76.09 L381.17,74.51 L381.57,73.08 L381.97,71.80 L382.38,70.68 L382.78,69.72 L383.19,68.92 L383.59,68.30 L383.99,67.86 L384.40,67.59 L384.80,67.50 L385.20,67.53 L385.61,67.64 L386.01,67.81 L386.41,68.05 L386.82,68.36 L387.22,68.74 L387.62,69.18 L388.03,69.68 L388.43,70.25 L388.83,70.87 L389.24,71.55 L389.64,72.28 L390.04,73.07 L390.45,73.90 L390.85,74.77 L391.25,75.69 L391.66,76.65 L392.06,77.64 L392.46,78.65 L392.87,79.70 L393.27,80.77 L393.67,81.85 L394.08,82.95 L394.48,84.06 L394.88,85.18 L395.29,86.30 L395.69,87.42 L396.09,88.53 L396.50,89.63 L396.90,90.72 L397.30,91.79 L397.71,92.84 L398.11,93.87 L398.51,94.87 L398.92,95.84 L399.32,96.78 L399.72,97.68 L400.13,98.55 L400.53,99.37 L400.93,100.15 L401.34,100.89 L401.74,101.58 L402.14,102.23 L402.55,102.83 L402.95,103.38 L403.35,103.89 L403.76,104.34 L404.16,104.75 L404.56,105.12 L404.97,105.44 L405.37,105.71 L405.77,105.94 L406.18,106.13 L406.58,106.29 L406.98,106.40 L407.39,106.49 L407.79,106.55 L408.19,106.58 L408.60,106.60 L409.00,106.60 L409.41,106.59 L409.82,106.55 L410.23,106.49 L410.64,106.39 L411.05,106.25 L411.46,106.09 L411.87,105.89 L412.28,105.66 L412.69,105.40 L413.10,105.11 L413.51,104.80 L413.92,104.47 L414.33,104.12 L414.74,103.76 L415.15,103.38 L415.55,103.00 L415.96,102.62 L416.37,102.24 L416.78,101.87 L417.19,101.51 L417.60,101.17 L418.01,100.84 L418.42,100.54 L418.83,100.26 L419.24,100.02 L419.65,99.80 L420.06,99.62 L420.47,99.48 L420.88,99.38 L421.29,99.32 L421.70,99.30 L422.10,99.32 L422.50,99.37 L422.91,99.45 L423.31,99.56 L423.71,99.70 L424.11,99.88 L424.51,100.09 L424.91,100.32 L425.32,100.59 L425.72,100.88 L426.12,101.19 L426.52,101.54 L426.92,101.91 L427.33,102.30 L427.73,102.71 L428.13,103.14 L428.53,103.58 L428.93,104.05 L429.34,104.53 L429.74,105.02 L430.14,105.52 L430.54,106.03 L430.94,106.54 L431.34,107.06 L431.75,107.59 L432.15,108.11 L432.55,108.64 L432.95,109.16 L433.35,109.67 L433.76,110.18 L434.16,110.68 L434.56,111.17 L434.96,111.65 L435.36,112.11 L435.76,112.56 L436.17,112.99 L436.57,113.40 L436.97,113.80 L437.37,114.17 L437.77,114.52 L438.18,114.85 L438.58,115.15 L438.98,115.43 L439.38,115.68 L439.78,115.91 L440.19,116.11 L440.59,116.28 L440.99,116.43 L441.39,116.55 L441.79,116.65 L442.19,116.72 L442.60,116.77 L443.00,116.79 L443.40,116.80 L443.80,116.79 L444.20,116.77 L444.60,116.72 L445.00,116.66 L445.40,116.59 L445.80,116.50 L446.20,116.39 L446.60,116.27 L447.00,116.14 L447.40,115.99 L447.80,115.83 L448.20,115.66 L448.60,115.48 L449.00,115.29 L449.40,115.09 L449.80,114.88 L450.20,114.67 L450.60,114.45 L451.00,114.23 L451.40,114.01 L451.80,113.79 L452.20,113.57 L452.60,113.35 L453.00,113.13 L453.40,112.92 L453.80,112.71 L454.20,112.51 L454.60,112.32 L455.00,112.14 L455.40,111.97 L455.80,111.81 L456.20,111.66 L456.60,111.53 L457.00,111.41 L457.40,111.30 L457.80,111.21 L458.20,111.14 L458.60,111.08 L459.00,111.03 L459.40,111.01 L459.80,111.00 L460.20,111.01 L460.61,111.04 L461.01,111.09 L461.42,111.16 L461.82,111.25 L462.22,111.36 L462.63,111.48 L463.03,111.63 L463.43,111.79 L463.84,111.97 L464.24,112.17 L464.65,112.38 L465.05,112.61 L465.45,112.85 L465.86,113.11 L466.26,113.38 L466.67,113.65 L467.07,113.94 L467.47,114.24 L467.88,114.55 L468.28,114.86 L468.68,115.18 L469.09,115.51 L469.49,115.84 L469.90,116.17 L470.30,116.50 L470.70,116.83 L471.11,117.16 L471.51,117.49 L471.92,117.82 L472.32,118.14 L472.72,118.45 L473.13,118.76 L473.53,119.06 L473.93,119.35 L474.34,119.62 L474.74,119.89 L475.15,120.15 L475.55,120.39 L475.95,120.62 L476.36,120.83 L476.76,121.03 L477.17,121.21 L477.57,121.37 L477.97,121.52 L478.38,121.64 L478.78,121.75 L479.18,121.84 L479.59,121.91 L479.99,121.96 L480.40,121.99 L480.80,122.00 L481.21,121.99 L481.61,121.96 L482.02,121.91 L482.42,121.84 L482.83,121.76 L483.23,121.65 L483.64,121.53 L484.04,121.39 L484.45,121.24 L484.86,121.07 L485.26,120.89 L485.67,120.70 L486.07,120.50 L486.48,120.29 L486.88,120.07 L487.29,119.85 L487.69,119.63 L488.10,119.40 L488.51,119.17 L488.91,118.95 L489.32,118.73 L489.72,118.51 L490.13,118.30 L490.53,118.10 L490.94,117.91 L491.34,117.73 L491.75,117.56 L492.16,117.41 L492.56,117.27 L492.97,117.15 L493.37,117.04 L493.78,116.96 L494.18,116.89 L494.59,116.84 L494.99,116.81 L495.40,116.80 L495.80,116.81 L496.20,116.83 L496.60,116.87 L497.00,116.93 L497.40,117.00 L497.80,117.08 L498.20,117.17 L498.60,117.28 L499.00,117.38 L499.40,117.49 L499.80,117.61 L500.20,117.72 L500.60,117.82 L501.00,117.92 L501.40,118.02 L501.80,118.10 L502.20,118.17 L502.60,118.23 L503.00,118.27 L503.40,118.29 L503.80,118.30" fill="none" stroke="#e02e24" stroke-width="2.55" stroke-linejoin="round"/>
<text x="532.5" y="13.8" font-size="18.5" text-anchor="start" font-weight="bold" >c</text>
<line x1="593.0" y1="20.9" x2="593.0" y2="155.5" stroke="#222" stroke-width="1" />
<line x1="585" y1="155.5" x2="685" y2="155.5" stroke="#222" stroke-width="1" />
<line x1="585" y1="155.5" x2="593.0" y2="155.5" stroke="#222" stroke-width="1" />
<text x="580.8" y="160.0" font-size="13" text-anchor="end" font-weight="normal" >23.0</text>
<line x1="585" y1="128.6" x2="593.0" y2="128.6" stroke="#222" stroke-width="1" />
<text x="580.8" y="133.1" font-size="13" text-anchor="end" font-weight="normal" >23.5</text>
<line x1="585" y1="101.7" x2="593.0" y2="101.7" stroke="#222" stroke-width="1" />
<text x="580.8" y="106.2" font-size="13" text-anchor="end" font-weight="normal" >24.0</text>
<line x1="585" y1="74.80000000000001" x2="593.0" y2="74.80000000000001" stroke="#222" stroke-width="1" />
<text x="580.8" y="79.30000000000001" font-size="13" text-anchor="end" font-weight="normal" >24.5</text>
<line x1="585" y1="47.900000000000006" x2="593.0" y2="47.900000000000006" stroke="#222" stroke-width="1" />
<text x="580.8" y="52.400000000000006" font-size="13" text-anchor="end" font-weight="normal" >25.0</text>
<line x1="585" y1="21.0" x2="593.0" y2="21.0" stroke="#222" stroke-width="1" />
<text x="580.8" y="25.5" font-size="13" text-anchor="end" font-weight="normal" >25.5</text>
<line x1="618.3" y1="155.5" x2="618.3" y2="163.3" stroke="#222" stroke-width="1" />
<line x1="656.7" y1="155.5" x2="656.7" y2="163.3" stroke="#222" stroke-width="1" />
<text x="616.8" y="181" font-size="13.5" text-anchor="middle" font-weight="normal" >Cas9</text>
<text x="656.2" y="181" font-size="13.5" text-anchor="middle" font-weight="normal" >Cas9</text>
<text x="655.9" y="196.3" font-size="13.5" text-anchor="middle" font-weight="normal" >+ g1</text>
<text x="0" y="0" font-size="13" text-anchor="middle" font-weight="normal" transform="translate(544,85.2) rotate(-90)">Period, h</text>
<rect x="605.3" y="58.7" width="25.700000000000045" height="96.8" fill="#a0a0a0"/>
<path d="M606.4,155.5 L606.4,59.800000000000004 L629.9,59.800000000000004 L629.9,155.5" fill="none" stroke="#000" stroke-width="2.2" stroke-linejoin="miter"/>
<line x1="618.2" y1="55.4" x2="618.2" y2="62" stroke="#000" stroke-width="2" />
<line x1="611.2" y1="55.4" x2="625.2" y2="55.4" stroke="#000" stroke-width="2" />
<line x1="611.2" y1="62" x2="625.2" y2="62" stroke="#000" stroke-width="2" />
<circle cx="614.8" cy="46.5" r="2.5" fill="#000"/>
<circle cx="621.1" cy="47.6" r="2.5" fill="#000"/>
<circle cx="627.3" cy="52.4" r="2.5" fill="#000"/>
<circle cx="608.2" cy="58.5" r="2.5" fill="#000"/>
<circle cx="614.6" cy="61.9" r="2.5" fill="#000"/>
<circle cx="621.1" cy="66" r="2.5" fill="#000"/>
<circle cx="618" cy="75.4" r="2.5" fill="#000"/>
<circle cx="612" cy="60" r="2.5" fill="#000"/>
<circle cx="624" cy="60" r="2.5" fill="#000"/>
<rect x="644.3" y="82.2" width="25.40000000000009" height="73.3" fill="#f4a0a4"/>
<path d="M645.4,155.5 L645.4,83.3 L668.6,83.3 L668.6,155.5" fill="none" stroke="#000" stroke-width="2.2" stroke-linejoin="miter"/>
<line x1="656.6" y1="75.9" x2="656.6" y2="87.7" stroke="#000" stroke-width="2" />
<line x1="649.6" y1="75.9" x2="663.6" y2="75.9" stroke="#000" stroke-width="2" />
<line x1="649.6" y1="87.7" x2="663.6" y2="87.7" stroke="#000" stroke-width="2" />
<circle cx="652.4" cy="56.3" r="2.7" fill="none" stroke="#000" stroke-width="1.7"/>
<circle cx="661.1" cy="58.6" r="2.7" fill="none" stroke="#000" stroke-width="1.7"/>
<circle cx="656.5" cy="72.2" r="2.7" fill="none" stroke="#000" stroke-width="1.7"/>
<circle cx="648" cy="80.2" r="2.7" fill="none" stroke="#000" stroke-width="1.7"/>
<circle cx="665.1" cy="78.3" r="2.7" fill="none" stroke="#000" stroke-width="1.7"/>
<circle cx="648" cy="98.2" r="2.7" fill="none" stroke="#000" stroke-width="1.7"/>
<circle cx="656.3" cy="103.5" r="2.7" fill="none" stroke="#000" stroke-width="1.7"/>
<circle cx="664.8" cy="103.7" r="2.7" fill="none" stroke="#000" stroke-width="1.7"/>
<line x1="585" y1="155.5" x2="685" y2="155.5" stroke="#222" stroke-width="1" />
<polyline points="617.4,24.2 617.4,19.4 657.5,19.4 657.5,24.2" fill="none" stroke="#222" stroke-width="1"/>
<path d="M634.50,10.80 L634.50,8.10 M634.50,10.80 L637.07,9.97 M634.50,10.80 L636.09,12.98 M634.50,10.80 L632.91,12.98 M634.50,10.80 L631.93,9.97 " stroke="#111" stroke-width="1.3" stroke-linecap="butt" fill="none"/>
<path d="M640.50,10.80 L640.50,8.10 M640.50,10.80 L643.07,9.97 M640.50,10.80 L642.09,12.98 M640.50,10.80 L638.91,12.98 M640.50,10.80 L637.93,9.97 " stroke="#111" stroke-width="1.3" stroke-linecap="butt" fill="none"/>
<text x="-0.5" y="233.1" font-size="18.5" text-anchor="start" font-weight="bold" >d</text>
<line x1="61.0" y1="249.8" x2="61.0" y2="385.2" stroke="#222" stroke-width="1" />
<line x1="52.5" y1="249.8" x2="195.7" y2="249.8" stroke="#222" stroke-width="1" />
<line x1="52.5" y1="385.2" x2="197.4" y2="385.2" stroke="#222" stroke-width="1" />
<line x1="52.5" y1="249.8" x2="61.0" y2="249.8" stroke="#222" stroke-width="1" />
<text x="47" y="254.3" font-size="13" text-anchor="end" font-weight="normal" >0</text>
<line x1="52.5" y1="276.88" x2="61.0" y2="276.88" stroke="#222" stroke-width="1" />
<text x="47" y="281.38" font-size="13" text-anchor="end" font-weight="normal" >−1</text>
<line x1="52.5" y1="303.96000000000004" x2="61.0" y2="303.96000000000004" stroke="#222" stroke-width="1" />
<text x="47" y="308.46000000000004" font-size="13" text-anchor="end" font-weight="normal" >−2</text>
<line x1="52.5" y1="331.04" x2="61.0" y2="331.04" stroke="#222" stroke-width="1" />
<text x="47" y="335.54" font-size="13" text-anchor="end" font-weight="normal" >−3</text>
<line x1="52.5" y1="358.12" x2="61.0" y2="358.12" stroke="#222" stroke-width="1" />
<text x="47" y="362.62" font-size="13" text-anchor="end" font-weight="normal" >−4</text>
<line x1="52.5" y1="385.2" x2="61.0" y2="385.2" stroke="#222" stroke-width="1" />
<text x="47" y="389.7" font-size="13" text-anchor="end" font-weight="normal" >−5</text>
<line x1="91.9" y1="385.2" x2="91.9" y2="392.4" stroke="#222" stroke-width="1" />
<line x1="163.3" y1="385.2" x2="163.3" y2="392.4" stroke="#222" stroke-width="1" />
<text x="91.9" y="410" font-size="13" text-anchor="middle" font-weight="normal" >Vehicle</text>
<text x="163.3" y="410" font-size="13" text-anchor="middle" font-weight="normal" >VIP</text>
<text x="0" y="0" font-size="13" text-anchor="middle" font-weight="normal" transform="translate(20.8,317) rotate(-90)">Phase shift, h</text>
<rect x="69.3" y="249.8" width="17.400000000000006" height="8.0" fill="#a0a0a0"/>
<path d="M70.39999999999999,249.8 L70.39999999999999,256.7 L85.60000000000001,256.7 L85.60000000000001,249.8" fill="none" stroke="#000" stroke-width="2.2" stroke-linejoin="miter"/>
<line x1="78" y1="257" x2="78" y2="261.2" stroke="#000" stroke-width="2" />
<line x1="73.0" y1="257" x2="83.0" y2="257" stroke="#000" stroke-width="2" />
<line x1="73.0" y1="261.2" x2="83.0" y2="261.2" stroke="#000" stroke-width="2" />
<circle cx="78" cy="249.2" r="2.5" fill="#000"/>
<circle cx="78" cy="266.3" r="2.5" fill="#000"/>
<circle cx="72.5" cy="255.5" r="2.5" fill="#000"/>
<circle cx="83.8" cy="258.3" r="2.5" fill="#000"/>
<circle cx="79.4" cy="259.4" r="2.5" fill="#000"/>
<rect x="96.7" y="249.8" width="17.5" height="14.599999999999966" fill="#f4a0a4"/>
<path d="M97.8,249.8 L97.8,263.29999999999995 L113.10000000000001,263.29999999999995 L113.10000000000001,249.8" fill="none" stroke="#000" stroke-width="2.2" stroke-linejoin="miter"/>
<line x1="105.1" y1="264" x2="105.1" y2="270.1" stroke="#000" stroke-width="2" />
<line x1="100.1" y1="264" x2="110.1" y2="264" stroke="#000" stroke-width="2" />
<line x1="100.1" y1="270.1" x2="110.1" y2="270.1" stroke="#000" stroke-width="2" />
<circle cx="101" cy="255.5" r="2.7" fill="none" stroke="#000" stroke-width="1.7"/>
<circle cx="110" cy="258.6" r="2.7" fill="none" stroke="#000" stroke-width="1.7"/>
<circle cx="104.5" cy="258.4" r="2.7" fill="none" stroke="#000" stroke-width="1.7"/>
<circle cx="105.1" cy="278.6" r="2.7" fill="none" stroke="#000" stroke-width="1.7"/>
<rect x="141.3" y="249.8" width="17.399999999999977" height="94.69999999999999" fill="#a0a0a0"/>
<path d="M142.4,249.8 L142.4,343.4 L157.6,343.4 L157.6,249.8" fill="none" stroke="#000" stroke-width="2.2" stroke-linejoin="miter"/>
<line x1="150.1" y1="343" x2="150.1" y2="347.4" stroke="#000" stroke-width="2" />
<line x1="145.4" y1="343" x2="154.79999999999998" y2="343" stroke="#000" stroke-width="2" />
<line x1="145.4" y1="347.4" x2="154.79999999999998" y2="347.4" stroke="#000" stroke-width="2" />
<circle cx="150.1" cy="353.9" r="2.1" fill="#000"/>
<circle cx="145" cy="342.5" r="2.1" fill="#000"/>
<circle cx="149" cy="343" r="2.1" fill="#000"/>
<circle cx="153.5" cy="342.8" r="2.1" fill="#000"/>
<circle cx="156" cy="342" r="2.1" fill="#000"/>
<rect x="168.9" y="249.8" width="17.599999999999994" height="108.0" fill="#f4a0a4"/>
<path d="M170.0,249.8 L170.0,356.7 L185.4,356.7 L185.4,249.8" fill="none" stroke="#000" stroke-width="2.2" stroke-linejoin="miter"/>
<line x1="177.5" y1="355" x2="177.5" y2="356.5" stroke="#000" stroke-width="2" />
<line x1="172.5" y1="355" x2="182.5" y2="355" stroke="#000" stroke-width="2" />
<line x1="172.5" y1="356.5" x2="182.5" y2="356.5" stroke="#000" stroke-width="2" />
<circle cx="177.3" cy="338.5" r="2.4" fill="none" stroke="#000" stroke-width="1.8"/>
<circle cx="174.6" cy="352.5" r="2.4" fill="none" stroke="#000" stroke-width="1.8"/>
<circle cx="179" cy="352.5" r="2.4" fill="none" stroke="#000" stroke-width="1.8"/>
<circle cx="183.4" cy="352.5" r="2.4" fill="none" stroke="#000" stroke-width="1.8"/>
<circle cx="171" cy="356" r="2.4" fill="none" stroke="#000" stroke-width="1.8"/>
<circle cx="174.6" cy="362.3" r="2.4" fill="none" stroke="#000" stroke-width="1.8"/>
<circle cx="179" cy="367.5" r="2.4" fill="none" stroke="#000" stroke-width="1.8"/>
<circle cx="175.4" cy="375.2" r="2.4" fill="none" stroke="#000" stroke-width="1.8"/>
<circle cx="179.8" cy="377" r="2.4" fill="none" stroke="#000" stroke-width="1.8"/>
<line x1="52.5" y1="249.8" x2="195.7" y2="249.8" stroke="#222" stroke-width="1" />
<circle cx="78" cy="249.2" r="2.5" fill="#000"/>
<polyline points="150.1,241.2 150.1,236.4 178.7,236.4 178.7,241.2" fill="none" stroke="#222" stroke-width="1"/>
<path d="M164.10,229.50 L164.10,226.80 M164.10,229.50 L166.67,228.67 M164.10,229.50 L165.69,231.68 M164.10,229.50 L162.51,231.68 M164.10,229.50 L161.53,228.67 " stroke="#111" stroke-width="1.3" stroke-linecap="butt" fill="none"/>
<rect x="68" y="333.7" width="7.3" height="5" fill="#a0a0a0" stroke="#000" stroke-width="2.4"/>
<text x="81.7" y="340.1" font-size="11.5" text-anchor="start" font-weight="normal" >Cas9</text>
<rect x="68" y="362" width="7.3" height="5.7" fill="#f4a0a4" stroke="#000" stroke-width="2.4"/>
<text x="81.7" y="362.6" font-size="11.5" text-anchor="start" font-weight="normal" >Cas9 +</text>
<text x="81.7" y="375.4" font-size="11.5" text-anchor="start" font-weight="normal" >Dusp4 g1</text>
<text x="214.5" y="233.4" font-size="18.5" text-anchor="start" font-weight="bold" >e</text>
<line x1="260.0" y1="250.0" x2="260.0" y2="385.3" stroke="#222" stroke-width="1" />
<line x1="251.5" y1="385.3" x2="396.7" y2="385.3" stroke="#222" stroke-width="1" />
<line x1="251.5" y1="385.3" x2="260.0" y2="385.3" stroke="#222" stroke-width="1" />
<text x="246.3" y="389.8" font-size="13" text-anchor="end" font-weight="normal" >0</text>
<line x1="251.5" y1="340.2" x2="260.0" y2="340.2" stroke="#222" stroke-width="1" />
<text x="246.3" y="344.7" font-size="13" text-anchor="end" font-weight="normal" >1</text>
<line x1="251.5" y1="295.1" x2="260.0" y2="295.1" stroke="#222" stroke-width="1" />
<text x="246.3" y="299.6" font-size="13" text-anchor="end" font-weight="normal" >2</text>
<line x1="251.5" y1="250.0" x2="260.0" y2="250.0" stroke="#222" stroke-width="1" />
<text x="246.3" y="254.5" font-size="13" text-anchor="end" font-weight="normal" >3</text>
<line x1="290.5" y1="385.3" x2="290.5" y2="392.4" stroke="#222" stroke-width="1" />
<line x1="362.2" y1="385.3" x2="362.2" y2="392.4" stroke="#222" stroke-width="1" />
<text x="290.5" y="410" font-size="13" text-anchor="middle" font-weight="normal" >Vehicle</text>
<text x="362.2" y="410" font-size="13" text-anchor="middle" font-weight="normal" >VIP</text>
<text x="0" y="0" font-size="13" text-anchor="middle" font-weight="normal" transform="translate(226.8,316.3) rotate(-90)">Period change, h</text>
<rect x="268" y="373.4" width="17.899999999999977" height="11.900000000000034" fill="#a0a0a0"/>
<path d="M269.1,385.3 L269.1,374.5 L284.79999999999995,374.5 L284.79999999999995,385.3" fill="none" stroke="#000" stroke-width="2.2" stroke-linejoin="miter"/>
<line x1="276.9" y1="370.7" x2="276.9" y2="376" stroke="#000" stroke-width="2" />
<line x1="272.25" y1="370.7" x2="281.54999999999995" y2="370.7" stroke="#000" stroke-width="2" />
<line x1="272.25" y1="376" x2="281.54999999999995" y2="376" stroke="#000" stroke-width="2" />
<circle cx="271.3" cy="366.8" r="2.5" fill="#000"/>
<circle cx="283" cy="373.2" r="2.5" fill="#000"/>
<circle cx="277.1" cy="380.4" r="2.5" fill="#000"/>
<circle cx="278.1" cy="372.9" r="2.5" fill="#000"/>
<rect x="295.4" y="373.2" width="17.5" height="12.100000000000023" fill="#f4a0a4"/>
<path d="M296.5,385.3 L296.5,374.3 L311.79999999999995,374.3 L311.79999999999995,385.3" fill="none" stroke="#000" stroke-width="2.2" stroke-linejoin="miter"/>
<line x1="303.8" y1="368" x2="303.8" y2="378" stroke="#000" stroke-width="2" />
<line x1="299.0" y1="368" x2="308.6" y2="368" stroke="#000" stroke-width="2" />
<line x1="299.0" y1="378" x2="308.6" y2="378" stroke="#000" stroke-width="2" />
<circle cx="304.1" cy="360" r="2.7" fill="none" stroke="#000" stroke-width="1.7"/>
<circle cx="308.6" cy="380.4" r="2.7" fill="none" stroke="#000" stroke-width="1.7"/>
<circle cx="300.5" cy="375.9" r="2.7" fill="none" stroke="#000" stroke-width="1.7"/>
<rect x="340.2" y="325.7" width="17.600000000000023" height="59.60000000000002" fill="#a0a0a0"/>
<path d="M341.3,385.3 L341.3,326.8 L356.7,326.8 L356.7,385.3" fill="none" stroke="#000" stroke-width="2.2" stroke-linejoin="miter"/>
<line x1="348.7" y1="316.6" x2="348.7" y2="332.2" stroke="#000" stroke-width="2" />
<line x1="343.95" y1="316.6" x2="353.45" y2="316.6" stroke="#000" stroke-width="2" />
<line x1="343.95" y1="332.2" x2="353.45" y2="332.2" stroke="#000" stroke-width="2" />
<circle cx="343.2" cy="306.1" r="2.5" fill="#000"/>
<circle cx="354.9" cy="303.7" r="2.5" fill="#000"/>
<circle cx="348.7" cy="310.7" r="2.5" fill="#000"/>
<circle cx="345.2" cy="339.4" r="2.5" fill="#000"/>
<circle cx="352.4" cy="339.4" r="2.5" fill="#000"/>
<circle cx="348.9" cy="348.9" r="2.5" fill="#000"/>
<rect x="367.3" y="295.4" width="18.0" height="89.90000000000003" fill="#f4a0a4"/>
<path d="M368.40000000000003,385.3 L368.40000000000003,296.5 L384.2,296.5 L384.2,385.3" fill="none" stroke="#000" stroke-width="2.2" stroke-linejoin="miter"/>
<line x1="376.4" y1="286.6" x2="376.4" y2="303.4" stroke="#000" stroke-width="2" />
<line x1="371.9" y1="286.6" x2="380.9" y2="286.6" stroke="#000" stroke-width="2" />
<line x1="371.9" y1="303.4" x2="380.9" y2="303.4" stroke="#000" stroke-width="2" />
<circle cx="376.1" cy="259.5" r="2.7" fill="none" stroke="#000" stroke-width="1.7"/>
<circle cx="370.3" cy="281.3" r="2.7" fill="none" stroke="#000" stroke-width="1.7"/>
<circle cx="376.6" cy="276.3" r="2.7" fill="none" stroke="#000" stroke-width="1.7"/>
<circle cx="382" cy="279.8" r="2.7" fill="none" stroke="#000" stroke-width="1.7"/>
<circle cx="373" cy="293.5" r="2.7" fill="none" stroke="#000" stroke-width="1.7"/>
<circle cx="378.5" cy="300" r="2.7" fill="none" stroke="#000" stroke-width="1.7"/>
<circle cx="373.9" cy="335.3" r="2.7" fill="none" stroke="#000" stroke-width="1.7"/>
<circle cx="379.8" cy="335.3" r="2.7" fill="none" stroke="#000" stroke-width="1.7"/>
<circle cx="376.5" cy="290" r="2.2" fill="none" stroke="#000" stroke-width="2.6"/>
<line x1="251.5" y1="385.3" x2="396.7" y2="385.3" stroke="#222" stroke-width="1" />
<polyline points="348.7,257.6 348.7,252.9 376.5,252.9 376.5,257.6" fill="none" stroke="#222" stroke-width="1"/>
<path d="M363.40,246.00 L363.40,243.30 M363.40,246.00 L365.97,245.17 M363.40,246.00 L364.99,248.18 M363.40,246.00 L361.81,248.18 M363.40,246.00 L360.83,245.17 " stroke="#111" stroke-width="1.3" stroke-linecap="butt" fill="none"/>
<text x="413.5" y="232.7" font-size="18.5" text-anchor="start" font-weight="bold" >f</text>
<line x1="457.3" y1="249.2" x2="457.3" y2="384.2" stroke="#222" stroke-width="1" />
<line x1="449.5" y1="384.2" x2="594.8" y2="384.2" stroke="#222" stroke-width="1" />
<line x1="449.5" y1="384.2" x2="457.3" y2="384.2" stroke="#222" stroke-width="1" />
<text x="444.5" y="388.7" font-size="13" text-anchor="end" font-weight="normal" >0</text>
<line x1="449.5" y1="350.45" x2="457.3" y2="350.45" stroke="#222" stroke-width="1" />
<text x="444.5" y="354.95" font-size="13" text-anchor="end" font-weight="normal" >1</text>
<line x1="449.5" y1="316.7" x2="457.3" y2="316.7" stroke="#222" stroke-width="1" />
<text x="444.5" y="321.2" font-size="13" text-anchor="end" font-weight="normal" >2</text>
<line x1="449.5" y1="282.95" x2="457.3" y2="282.95" stroke="#222" stroke-width="1" />
<text x="444.5" y="287.45" font-size="13" text-anchor="end" font-weight="normal" >3</text>
<line x1="449.5" y1="249.2" x2="457.3" y2="249.2" stroke="#222" stroke-width="1" />
<text x="444.5" y="253.7" font-size="13" text-anchor="end" font-weight="normal" >4</text>
<line x1="488.7" y1="384.2" x2="488.7" y2="392.2" stroke="#222" stroke-width="1" />
<line x1="560.6" y1="384.2" x2="560.6" y2="392.2" stroke="#222" stroke-width="1" />
<text x="488.7" y="410" font-size="13" text-anchor="middle" font-weight="normal" >Vehicle</text>
<text x="560.6" y="410" font-size="13" text-anchor="middle" font-weight="normal" >VIP</text>
<text x="0" y="0" font-size="13" text-anchor="middle" font-weight="normal" transform="translate(424.9,315.3) rotate(-90)">Period change, h</text>
<rect x="466.1" y="365.9" width="17.799999999999955" height="18.30000000000001" fill="#a0a0a0"/>
<path d="M467.20000000000005,384.2 L467.20000000000005,367.0 L482.79999999999995,367.0 L482.79999999999995,384.2" fill="none" stroke="#000" stroke-width="2.2" stroke-linejoin="miter"/>
<line x1="475.1" y1="356.4" x2="475.1" y2="372" stroke="#000" stroke-width="2" />
<line x1="470.20000000000005" y1="356.4" x2="480.0" y2="356.4" stroke="#000" stroke-width="2" />
<line x1="470.20000000000005" y1="372" x2="480.0" y2="372" stroke="#000" stroke-width="2" />
<circle cx="475.1" cy="346.5" r="2.5" fill="#000"/>
<circle cx="470.5" cy="373.2" r="2.5" fill="#000"/>
<circle cx="479.5" cy="376.9" r="2.5" fill="#000"/>
<rect x="493.7" y="367.3" width="17.5" height="16.899999999999977" fill="#96b9dd"/>
<path d="M494.8,384.2 L494.8,368.40000000000003 L510.09999999999997,368.40000000000003 L510.09999999999997,384.2" fill="none" stroke="#000" stroke-width="2.2" stroke-linejoin="miter"/>
<line x1="502.5" y1="360" x2="502.5" y2="372" stroke="#000" stroke-width="2" />
<line x1="497.7" y1="360" x2="507.3" y2="360" stroke="#000" stroke-width="2" />
<line x1="497.7" y1="372" x2="507.3" y2="372" stroke="#000" stroke-width="2" />
<circle cx="502.5" cy="353.1" r="2.7" fill="none" stroke="#000" stroke-width="1.7"/>
<circle cx="497.8" cy="370.3" r="2.7" fill="none" stroke="#000" stroke-width="1.7"/>
<circle cx="506.6" cy="376.9" r="2.7" fill="none" stroke="#000" stroke-width="1.7"/>
<circle cx="503.9" cy="373.9" r="2.7" fill="none" stroke="#000" stroke-width="1.7"/>
<rect x="538.4" y="326.1" width="17.399999999999977" height="58.099999999999966" fill="#a0a0a0"/>
<path d="M539.5,384.2 L539.5,327.20000000000005 L554.6999999999999,327.20000000000005 L554.6999999999999,384.2" fill="none" stroke="#000" stroke-width="2.2" stroke-linejoin="miter"/>
<line x1="547.1" y1="315.6" x2="547.1" y2="335.3" stroke="#000" stroke-width="2" />
<line x1="542.3000000000001" y1="315.6" x2="551.9" y2="315.6" stroke="#000" stroke-width="2" />
<line x1="542.3000000000001" y1="335.3" x2="551.9" y2="335.3" stroke="#000" stroke-width="2" />
<circle cx="542.4" cy="309.3" r="2.5" fill="#000"/>
<circle cx="551.7" cy="312.5" r="2.5" fill="#000"/>
<circle cx="547.2" cy="353.4" r="2.5" fill="#000"/>
<rect x="565.6" y="286.6" width="17.399999999999977" height="97.59999999999997" fill="#96b9dd"/>
<path d="M566.7,384.2 L566.7,287.70000000000005 L581.9,287.70000000000005 L581.9,384.2" fill="none" stroke="#000" stroke-width="2.2" stroke-linejoin="miter"/>
<line x1="574" y1="276.1" x2="574" y2="297.1" stroke="#000" stroke-width="2" />
<line x1="569.3" y1="276.1" x2="578.7" y2="276.1" stroke="#000" stroke-width="2" />
<line x1="569.3" y1="297.1" x2="578.7" y2="297.1" stroke="#000" stroke-width="2" />
<circle cx="574.2" cy="258.8" r="2.7" fill="none" stroke="#000" stroke-width="1.9"/>
<circle cx="569.8" cy="289.5" r="2.7" fill="none" stroke="#000" stroke-width="1.9"/>
<circle cx="579" cy="289.5" r="2.7" fill="none" stroke="#000" stroke-width="1.9"/>
<circle cx="574.2" cy="309.3" r="2.7" fill="none" stroke="#000" stroke-width="1.9"/>
<line x1="449.5" y1="384.2" x2="594.8" y2="384.2" stroke="#222" stroke-width="1" />
<polyline points="547.3,252.7 547.3,248.3 574.7,248.3 574.7,252.7" fill="none" stroke="#222" stroke-width="1"/>
<path d="M560.70,240.60 L560.70,237.90 M560.70,240.60 L563.27,239.77 M560.70,240.60 L562.29,242.78 M560.70,240.60 L559.11,242.78 M560.70,240.60 L558.13,239.77 " stroke="#111" stroke-width="1.3" stroke-linecap="butt" fill="none"/>
<rect x="593" y="305.2" width="7.9" height="5.4" fill="#a0a0a0" stroke="#000" stroke-width="2.4"/>
<text x="606.7" y="304.5" font-size="11.5" text-anchor="start" font-weight="normal" >No Cre</text>
<text x="606.7" y="317.8" font-size="11.5" text-anchor="start" font-weight="normal" >Dusp4<tspan font-size="8.6" dy="-5.2" letter-spacing="-0.3" style="font-variant-ligatures:none;stroke-width:0">flx/flx</tspan></text>
<rect x="593" y="344.6" width="7.9" height="5.3" fill="#96b9dd" stroke="#000" stroke-width="2.4"/>
<text x="606.7" y="343.2" font-size="11.5" text-anchor="start" font-weight="normal" >SynCre</text>
<text x="606.7" y="356.6" font-size="11.5" text-anchor="start" font-weight="normal" >Dusp4<tspan font-size="8.6" dy="-5.2" letter-spacing="-0.3" style="font-variant-ligatures:none;stroke-width:0">flx/flx</tspan></text>
</svg>
</body></html>
